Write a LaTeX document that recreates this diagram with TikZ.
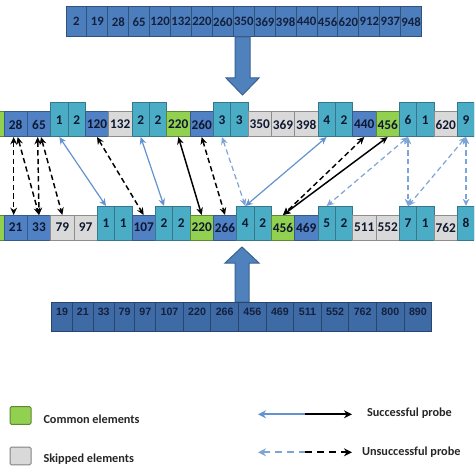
\documentclass[tikz,border=0pt]{standalone}
\usepackage{fontspec}
\setmainfont{Carlito}
\newfontfamily\arialfont{Liberation Sans}
\usetikzlibrary{arrows.meta}

\definecolor{listblue}{RGB}{76,126,189}
\definecolor{listdark}{RGB}{62,106,166}
\definecolor{listink}{RGB}{20,32,62}
\definecolor{cellink}{RGB}{14,24,48}
\definecolor{valblue}{RGB}{79,129,196}
\definecolor{ptrcyan}{RGB}{75,172,198}
\definecolor{comgreen}{RGB}{146,208,80}
\definecolor{skipgrey}{RGB}{217,217,217}
\definecolor{ptrline}{RGB}{98,146,208}
\definecolor{ptrdash}{RGB}{124,164,214}
\definecolor{bigarrow}{RGB}{79,129,189}

\tikzset{every picture/.style={line width=0.75pt}}
\tikzset{
  cell/.style={draw, anchor=south west, inner sep=0pt, outer sep=0pt, text=cellink, font=\bfseries\fontsize{10}{11}\selectfont},
  valcell/.style={cell, fill=valblue, draw=valblue!70!black, minimum width=17.5pt, minimum height=18.75pt},
  ptrcell/.style={cell, fill=ptrcyan, draw=ptrcyan!70!black, minimum width=13pt, minimum height=25.5pt},
  comcell/.style={valcell, fill=comgreen, draw=comgreen!65!black},
  skipcell/.style={valcell, fill=skipgrey, draw=skipgrey!65!black},
  listA/.style={cell, fill=listblue, draw=listblue!65!black, minimum width=15.69pt, minimum height=22.5pt, text=listink, font=\bfseries\fontsize{9.6}{11}\selectfont},
  listB/.style={cell, fill=listdark, draw=listdark!65!black, minimum width=15.6pt, minimum height=22pt, text=listink, text height=6pt, text depth=8pt, font=\arialfont\bfseries\fontsize{8}{9}\selectfont},
  listBw/.style={listB, minimum width=20.7pt},
  probe/.style={draw=black, line width=1.1pt, {Stealth[length=5.5pt,width=5pt]}-{Stealth[length=5.5pt,width=5pt]}},
  missprobe/.style={probe, dash pattern=on 4pt off 2.5pt},
  ptrprobe/.style={probe, draw=ptrline, line width=0.9pt},
  ptrmiss/.style={ptrprobe, draw=ptrdash, dash pattern=on 4pt off 2.5pt},
  keyline/.style={line width=1.5pt, dash pattern=on 5.5pt off 3.5pt},
  keybox/.style={minimum width=15.75pt, minimum height=13.2pt, rounded corners=1pt, inner sep=0pt},
  keytext/.style={anchor=west, inner sep=0pt, text=black!85, font=\bfseries\fontsize{9.2}{11}\selectfont}
}

\begin{document}
\begin{tikzpicture}[x=0.75pt,y=0.75pt,yscale=-1,xscale=1]
\useasboundingbox (0,0) rectangle (474,474);
\clip (0,0) rectangle (474,474);

%Top list
\node[listA] (t1) at (66,36.7) {2};
\node[listA] (t2) at (t1.south east) {19};
\node[listA] (t3) at (t2.south east) {28};
\node[listA] (t4) at (t3.south east) {65};
\node[listA] (t5) at (t4.south east) {120};
\node[listA] (t6) at (t5.south east) {132};
\node[listA] (t7) at (t6.south east) {220};
\node[listA] (t8) at (t7.south east) {260};
\node[listA] (t9) at (t8.south east) {350};
\node[listA] (t10) at (t9.south east) {369};
\node[listA] (t11) at (t10.south east) {398};
\node[listA] (t12) at (t11.south east) {440};
\node[listA] (t13) at (t12.south east) {456};
\node[listA] (t14) at (t13.south east) {620};
\node[listA] (t15) at (t14.south east) {912};
\node[listA] (t16) at (t15.south east) {937};
\node[listA] (t17) at (t16.south east) {948};

%Shape: Down Arrow
\draw [draw=bigarrow!75!black, fill=bigarrow] (235,37) -- (250,37) -- (250,78) -- (259,78) -- (242.5,95) -- (226,78) -- (235,78) -- cycle ;

%Upper skip list
\node[comcell, anchor=south east] (p0) at (4,137) {};
\node[valcell] (p1) at (4,137) {28};
\node[valcell] (p2) at (p1.south east) {65};
\node[ptrcell] (p3) at (p2.south east) {1};
\node[ptrcell] (p4) at (p3.south east) {2};
\node[valcell] (p5) at (p4.south east) {120};
\node[skipcell] (p6) at (p5.south east) {132};
\node[ptrcell] (p7) at (p6.south east) {2};
\node[ptrcell] (p8) at (p7.south east) {2};
\node[comcell] (p9) at (p8.south east) {220};
\node[valcell] (p10) at (p9.south east) {260};
\node[ptrcell] (p11) at (p10.south east) {3};
\node[ptrcell] (p12) at (p11.south east) {3};
\node[skipcell] (p13) at (p12.south east) {350};
\node[skipcell] (p14) at (p13.south east) {369};
\node[skipcell] (p15) at (p14.south east) {398};
\node[ptrcell] (p16) at (p15.south east) {4};
\node[ptrcell] (p17) at (p16.south east) {2};
\node[valcell] (p18) at (p17.south east) {440};
\node[comcell] (p19) at (p18.south east) {456};
\node[ptrcell] (p20) at (p19.south east) {6};
\node[ptrcell] (p21) at (p20.south east) {1};
\node[skipcell] (p22) at (p21.south east) {620};
\node[ptrcell] (p23) at (p22.south east) {9};

%Lower skip list
\node[comcell, anchor=south east] (q0) at (4,240) {};
\node[valcell] (q1) at (4,240) {21};
\node[valcell] (q2) at (q1.south east) {33};
\node[skipcell] (q3) at (q2.south east) {79};
\node[skipcell] (q4) at (q3.south east) {97};
\node[ptrcell] (q5) at (q4.south east) {1};
\node[ptrcell] (q6) at (q5.south east) {1};
\node[valcell] (q7) at (q6.south east) {107};
\node[ptrcell] (q8) at (q7.south east) {2};
\node[ptrcell] (q9) at (q8.south east) {2};
\node[comcell] (q10) at (q9.south east) {220};
\node[valcell] (q11) at (q10.south east) {266};
\node[ptrcell] (q12) at (q11.south east) {4};
\node[ptrcell] (q13) at (q12.south east) {2};
\node[comcell] (q14) at (q13.south east) {456};
\node[valcell] (q15) at (q14.south east) {469};
\node[ptrcell] (q16) at (q15.south east) {5};
\node[ptrcell] (q17) at (q16.south east) {2};
\node[skipcell] (q18) at (q17.south east) {511};
\node[skipcell] (q19) at (q18.south east) {552};
\node[ptrcell] (q20) at (q19.south east) {7};
\node[ptrcell] (q21) at (q20.south east) {1};
\node[skipcell] (q22) at (q21.south east) {762};
\node[ptrcell] (q23) at (q22.south east) {8};

%Shape: Up Arrow
\draw [draw=bigarrow!75!black, fill=bigarrow] (235,302) -- (249,302) -- (249,263) -- (259,263) -- (242,247) -- (225,263) -- (235,263) -- cycle ;

%Bottom list
\node[listB] (u1) at (51.7,331.7) {19};
\node[listB] (u2) at (u1.south east) {21};
\node[listB] (u3) at (u2.south east) {33};
\node[listB] (u4) at (u3.south east) {79};
\node[listB] (u5) at (u4.south east) {97};
\node[listBw] (u6) at (u5.south east) {107};
\node[listBw] (u7) at (u6.south east) {220};
\node[listBw] (u8) at (u7.south east) {266};
\node[listBw] (u9) at (u8.south east) {456};
\node[listBw] (u10) at (u9.south east) {469};
\node[listBw] (u11) at (u10.south east) {511};
\node[listBw] (u12) at (u11.south east) {552};
\node[listBw] (u13) at (u12.south east) {762};
\node[listBw] (u14) at (u13.south east) {800};
\node[listBw] (u15) at (u14.south east) {890};

%Probes
\draw [missprobe] ([xshift=-1.5pt]p1.south) -- ([xshift=-1.5pt]q1.north) ;
\draw [missprobe] ([xshift=1.5pt]p1.south) -- (q2.north) ;
\draw [missprobe] ([xshift=-1pt]p2.south) -- (q2.north) ;
\draw [missprobe] ([xshift=1.5pt]p2.south) -- (q3.north) ;
\draw [ptrprobe] (p3.south) -- (q5.north) ;
\draw [missprobe] (p5.south) -- (q7.north) ;
\draw [ptrprobe] (p7.south) -- (q8.north) ;
\draw [probe] (p9.south) -- (q10.north) ;
\draw [missprobe] (p10.south) -- (q11.north) ;
\draw [ptrmiss] (p11.south) -- (q12.north) ;
\draw [ptrprobe] (p16.south) -- (q12.north) ;
\draw [missprobe] (p18.south) -- (q14.north) ;
\draw [probe] (p19.south) -- (q14.north) ;
\draw [ptrmiss] (p20.south) -- (q16.north) ;
\draw [ptrmiss] (p20.south) -- (q20.north) ;
\draw [ptrmiss] (p23.south) -- (q20.north) ;
\draw [ptrmiss] (p23.south) -- (q23.north) ;

%Legend
\node[keybox, draw=comgreen!65!black, fill=comgreen] (keycom) at (20.5,415.5) {};
\node[keytext] (keycomtxt) at (43,419.5) {Common elements};
\node[keybox, draw=skipgrey!60!black, fill=skipgrey] (keyskip) at (20.5,456) {};
\node[keytext] (keyskiptxt) at (43,459) {Skipped elements};

\coordinate (s1) at (258,414.3);
\coordinate (s2) at (305,414.3);
\coordinate (s3) at (352,414.3);
\draw [ptrprobe, line width=1.5pt, {Stealth[length=6pt,width=6pt]}-] (s1) -- (s2) ;
\draw [probe, line width=1.5pt, -{Stealth[length=6pt,width=6pt]}] (s2) -- (s3) ;
\node[keytext] (keyhit) at (366.5,413) {Successful probe};

\coordinate (m1) at (258,452.3);
\coordinate (m2) at (305,452.3);
\coordinate (m3) at (352,452.3);
\draw [ptrmiss, keyline, {Stealth[length=6pt,width=6pt]}-] (m1) -- (m2) ;
\draw [missprobe, keyline, -{Stealth[length=6pt,width=6pt]}] (m2) -- (m3) ;
\node[keytext] (keymiss) at (361.5,452) {Unsuccessful probe};

\end{tikzpicture}
\end{document}
